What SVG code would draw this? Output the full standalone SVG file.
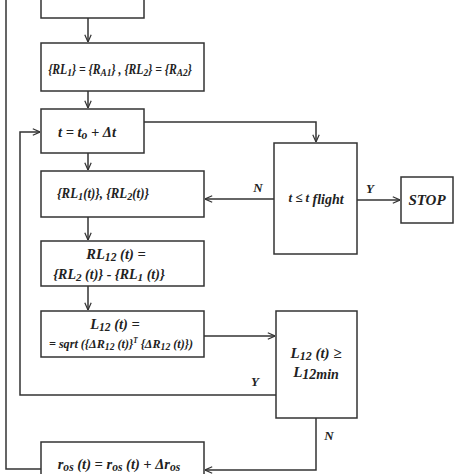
<svg xmlns="http://www.w3.org/2000/svg" width="474" height="474" viewBox="0 0 474 474">
<style>
.b{fill:#fff;stroke:#333;stroke-width:1.5}
.c{fill:none;stroke:#333;stroke-width:1.5}
.t{font-family:"Liberation Serif","Times New Roman",serif;font-weight:bold;font-style:italic;fill:#222;text-anchor:middle}
.s{font-size:0.8em}
</style>
<defs>
<marker id="a" viewBox="0 0 10 10" refX="10" refY="5" markerWidth="8" markerHeight="8" markerUnits="userSpaceOnUse" orient="auto">
<path d="M1,1 L10,5 L1,9" fill="none" stroke="#333" stroke-width="1.5"/>
</marker>
</defs>
<rect width="474" height="474" fill="#fff"/>
<g id="connectors">
<path class="c" d="M88,18 V42" marker-end="url(#a)"/>
<path class="c" d="M88,91 V108" marker-end="url(#a)"/>
<path class="c" d="M144,122 H316 V142" marker-end="url(#a)"/>
<path class="c" d="M88,153 V170" marker-end="url(#a)"/>
<path class="c" d="M274,199 H205" marker-end="url(#a)"/>
<path class="c" d="M357,200 H400" marker-end="url(#a)"/>
<path class="c" d="M88,217 V240" marker-end="url(#a)"/>
<path class="c" d="M88,286 V310" marker-end="url(#a)"/>
<path class="c" d="M204,336 H275" marker-end="url(#a)"/>
<path class="c" d="M276,395 H20 V132 H40" marker-end="url(#a)"/>
<path class="c" d="M316,418 V470 H205" marker-end="url(#a)"/>
<path class="c" d="M41,469 H6 V0"/>
<text class="t" x="258" y="192" font-size="13">N</text>
<text class="t" x="370" y="193" font-size="13">Y</text>
<text class="t" x="255" y="386" font-size="13">Y</text>
<text class="t" x="329" y="440" font-size="13">N</text>
</g>
<g id="n1"><rect class="b" x="41" y="-10" width="103" height="28"/></g>
<g id="n2"><rect class="b" x="41" y="43" width="163" height="48"/>
<text class="t" transform="translate(120,74) scale(0.84,1)" x="0" y="0" font-size="14">{RL<tspan class="s" dy="2">1</tspan><tspan dy="-2">} = {R</tspan><tspan class="s" dy="2">A1</tspan><tspan dy="-2">} , {RL</tspan><tspan class="s" dy="2">2</tspan><tspan dy="-2">} = {R</tspan><tspan class="s" dy="2">A2</tspan><tspan dy="-2">}</tspan></text></g>
<g id="n3"><rect class="b" x="41" y="109" width="103" height="44"/>
<text class="t" x="87" y="137" font-size="14.5">t = t<tspan class="s" dy="2">o</tspan><tspan dy="-2"> + Δt</tspan></text></g>
<g id="n4"><rect class="b" x="41" y="171" width="163" height="46"/>
<text class="t" transform="translate(103,198) scale(0.92,1)" x="0" y="0" font-size="14">{RL<tspan class="s" dy="2">1</tspan><tspan dy="-2">(t)}, {RL</tspan><tspan class="s" dy="2">2</tspan><tspan dy="-2">(t)}</tspan></text></g>
<g id="n5"><rect class="b" x="41" y="241" width="163" height="45"/>
<text class="t" x="116" y="259" font-size="14.5">RL<tspan class="s" dy="2">12</tspan><tspan dy="-2"> (t) =</tspan></text>
<text class="t" x="109" y="279" font-size="14">{RL<tspan class="s" dy="2">2</tspan><tspan dy="-2"> (t)} - {RL</tspan><tspan class="s" dy="2">1</tspan><tspan dy="-2"> (t)}</tspan></text></g>
<g id="n6"><rect class="b" x="41" y="311" width="163" height="46"/>
<text class="t" x="115" y="329" font-size="14.5">L<tspan class="s" dy="2">12</tspan><tspan dy="-2"> (t) =</tspan></text>
<text class="t" transform="translate(121,348) scale(0.9,1)" x="0" y="0" font-size="13.5">= sqrt ({ΔR<tspan class="s" dy="2">12</tspan><tspan dy="-2"> (t)}</tspan><tspan font-size="8" dy="-5">T</tspan><tspan dy="5"> {ΔR</tspan><tspan class="s" dy="2">12</tspan><tspan dy="-2"> (t)})</tspan></text></g>
<g id="n7"><rect class="b" x="274" y="143" width="83" height="111"/>
<text class="t" x="316" y="202" font-size="13">t ≤ t <tspan font-size="14" dy="2">flight</tspan></text></g>
<g id="n8"><rect class="b" x="401" y="177" width="52" height="46"/>
<text class="t" x="427" y="205" font-size="15">STOP</text></g>
<g id="n9"><rect class="b" x="276" y="311" width="81" height="107"/>
<text class="t" x="316" y="358" font-size="15">L<tspan class="s" dy="2">12</tspan><tspan dy="-2"> (t) ≥</tspan></text>
<text class="t" x="316" y="377" font-size="15">L<tspan font-size="14" dy="2">12min</tspan></text></g>
<g id="n10"><rect class="b" x="41" y="442" width="163" height="40"/>
<text class="t" x="119" y="469" font-size="14.5">r<tspan class="s" dy="2">os</tspan><tspan dy="-2"> (t) = r</tspan><tspan class="s" dy="2">os</tspan><tspan dy="-2"> (t) + Δr</tspan><tspan class="s" dy="2">os</tspan></text></g>
</svg>
